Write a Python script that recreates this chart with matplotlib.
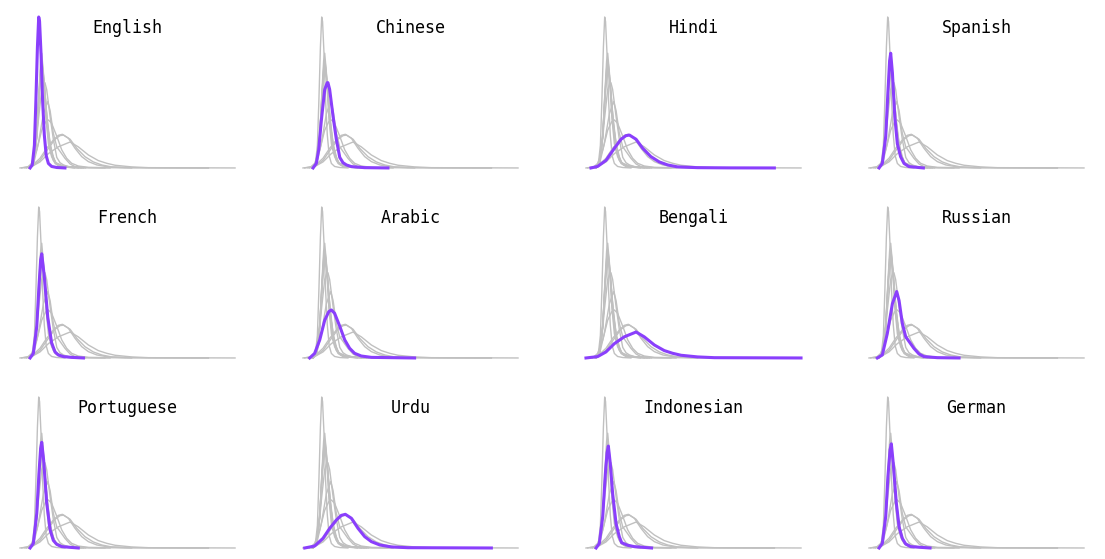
"""
    Distribution per language, small multiples
    - every language drawn in grey in every panel
    - the panel's own language highlighted in purple
"""
import matplotlib
matplotlib.use("Agg")
import matplotlib.pyplot as plt

languages = ['English', 'Chinese', 'Hindi', 'Spanish',
             'French', 'Arabic', 'Bengali', 'Russian',
             'Portuguese', 'Urdu', 'Indonesian', 'German']

# density curves (x: 0-100, y: relative density)
english_x = [4.7, 5.7, 6.7, 7.4, 8.1, 8.7, 9.1, 9.8, 10.5, 11.3, 12.2, 13.2, 14.7, 17.1, 20.9]
english_y = [0, 0.02, 0.15, 0.45, 0.80, 1.00, 0.97, 0.75, 0.45, 0.22, 0.08, 0.03, 0.01, 0.003, 0]

chinese_x = [4.7, 6.2, 7.3, 8.5, 10.1, 11.3, 11.6, 12.4, 14.0, 15.5, 17.1, 18.6, 20.2, 22.5, 28.7, 39.5]
chinese_y = [0, 0.03, 0.12, 0.31, 0.52, 0.565, 0.565, 0.52, 0.34, 0.19, 0.07, 0.035, 0.02, 0.009, 0.002, 0]

hindi_x = [2.3, 5.4, 9.3, 13.2, 16.3, 18.6, 20.2, 23.3, 26.4, 30.2, 34.1, 38.0, 42.6, 51.9, 67.4, 87.6]
hindi_y = [0, 0.01, 0.05, 0.13, 0.19, 0.214, 0.218, 0.19, 0.13, 0.075, 0.04, 0.02, 0.007, 0.002, 0.0005, 0]

spanish_x = [4.7, 6.2, 7.8, 8.8, 9.6, 10.1, 10.9, 12.0, 13.2, 14.7, 16.3, 18.6, 25.3]
spanish_y = [0, 0.03, 0.21, 0.50, 0.71, 0.76, 0.63, 0.34, 0.16, 0.075, 0.03, 0.009, 0]

french_x = [4.7, 6.2, 7.8, 8.8, 9.6, 10.1, 11.3, 12.9, 14.7, 16.3, 17.8, 20.2, 24.0, 29.5]
french_y = [0, 0.03, 0.21, 0.47, 0.65, 0.69, 0.54, 0.27, 0.10, 0.04, 0.02, 0.009, 0.004, 0]

arabic_x = [3.1, 5.4, 7.8, 10.1, 12.0, 13.2, 14.7, 17.1, 19.4, 21.7, 24.0, 27.1, 31.8, 51.9]
arabic_y = [0, 0.03, 0.12, 0.25, 0.307, 0.318, 0.296, 0.21, 0.12, 0.064, 0.031, 0.013, 0.004, 0]

bengali_x = [0, 5.4, 9.3, 13.2, 17.8, 23.3, 27.1, 31.8, 36.4, 40.3, 44.2, 51.9, 59.7, 100]
bengali_y = [0, 0.009, 0.04, 0.095, 0.14, 0.172, 0.14, 0.086, 0.049, 0.031, 0.018, 0.007, 0.002, 0]

russian_x = [3.9, 6.2, 8.5, 10.9, 12.9, 14.0, 15.5, 17.1, 18.6, 20.9, 23.3, 25.6, 31.8, 41.9]
russian_y = [0, 0.02, 0.16, 0.36, 0.44, 0.38, 0.23, 0.14, 0.11, 0.064, 0.026, 0.009, 0.002, 0]

portuguese_x = [4.7, 6.2, 7.8, 8.8, 9.6, 10.1, 11.0, 12.4, 14.0, 15.5, 17.1, 19.4, 27.1]
portuguese_y = [0, 0.03, 0.23, 0.49, 0.66, 0.70, 0.58, 0.30, 0.12, 0.05, 0.024, 0.009, 0]

urdu_x = [0.8, 5.4, 9.3, 12.4, 15.5, 17.8, 19.7, 22.5, 25.6, 28.7, 31.8, 35.7, 41.1, 48.8, 87.6]
urdu_y = [0, 0.013, 0.064, 0.13, 0.185, 0.216, 0.223, 0.197, 0.13, 0.075, 0.042, 0.02, 0.007, 0.002, 0]

indonesian_x = [4.7, 6.2, 7.8, 9.0, 9.8, 10.4, 11.3, 12.4, 14.0, 15.5, 16.6, 19.4, 22.5, 30.5]
indonesian_y = [0, 0.03, 0.21, 0.49, 0.63, 0.675, 0.56, 0.36, 0.16, 0.075, 0.035, 0.018, 0.009, 0]

german_x = [4.7, 6.2, 7.8, 8.8, 9.8, 10.4, 11.3, 12.7, 14.0, 15.5, 17.1, 19.4, 28.4]
german_y = [0, 0.03, 0.21, 0.47, 0.65, 0.69, 0.56, 0.30, 0.14, 0.064, 0.026, 0.009, 0]

curves = {
    'English': (english_x, english_y),
    'Chinese': (chinese_x, chinese_y),
    'Hindi': (hindi_x, hindi_y),
    'Spanish': (spanish_x, spanish_y),
    'French': (french_x, french_y),
    'Arabic': (arabic_x, arabic_y),
    'Bengali': (bengali_x, bengali_y),
    'Russian': (russian_x, russian_y),
    'Portuguese': (portuguese_x, portuguese_y),
    'Urdu': (urdu_x, urdu_y),
    'Indonesian': (indonesian_x, indonesian_y),
    'German': (german_x, german_y),
}

GREY = '#c0c0c0'
PURPLE = '#8a3ffc'

fig, axes = plt.subplots(3, 4, figsize=(11.05, 5.59), dpi=100, sharex=True, sharey=True)
plt.subplots_adjust(left=0.0181, right=0.981, bottom=0.0197, top=0.975,
                    wspace=0.316, hspace=0.234)

for ax, lang in zip(axes.flat, languages):
    for other in languages:
        ox, oy = curves[other]
        ax.plot(ox, oy, c=GREY, lw=1, clip_on=False)
    x, y = curves[lang]
    ax.plot(x, y, c=PURPLE, lw=2.2, clip_on=False, zorder=3)
    ax.text(0.5, 0.875, lang, transform=ax.transAxes, ha='center', va='baseline',
            fontsize=12, family='DejaVu Sans Mono')
    ax.set_xlim(0, 100)
    ax.set_ylim(0, 1.02)
    ax.axis('off')

plt.savefig('out.png', dpi=100)
